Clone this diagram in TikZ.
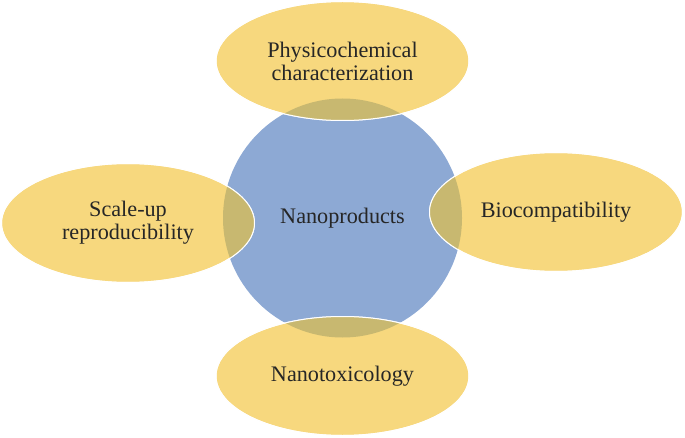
\documentclass[tikz,border=0pt]{standalone}
\usepackage{fontspec}
\setmainfont{Liberation Serif}
\usetikzlibrary{shapes.geometric}
\definecolor{petal}{HTML}{F7D87E}
\definecolor{core}{HTML}{8DA9D4}
\definecolor{overlapc}{HTML}{C8B870}
\definecolor{txt}{HTML}{262626}
\begin{document}
\begin{tikzpicture}[x=1pt,y=1pt,
  labelfont/.style={text=txt, font=\fontsize{22.2}{23}\selectfont, align=center},
  petalbox/.style={ellipse, fill=petal, draw=white, line width=1pt, minimum width=253pt, minimum height=119pt, inner sep=0pt, labelfont},
  corebox/.style={circle, fill=core, minimum size=239pt, inner sep=0pt, labelfont}]
\useasboundingbox (0,0) rectangle (685,437);
\node[corebox] (core) at (342.5,219) {Nanoproducts};
\node[petalbox] (top) at (342.5,376) {Physicochemical\\characterization};
\node[petalbox] (bottom) at (342.5,61) {Nanotoxicology};
\node[petalbox] (left) at (128,214) {Scale-up\\reproducibility};
\node[petalbox] (right) at (556,225) {Biocompatibility};
\foreach \n in {top,bottom,left,right}{
  \begin{scope}
    \clip (core.center) circle (119.5);
    \fill[overlapc] (\n.center) ellipse (126.5 and 59.5);
  \end{scope}
  \draw[white, line width=1pt] (\n.center) ellipse (126.5 and 59.5);
}
\end{tikzpicture}
\end{document}
